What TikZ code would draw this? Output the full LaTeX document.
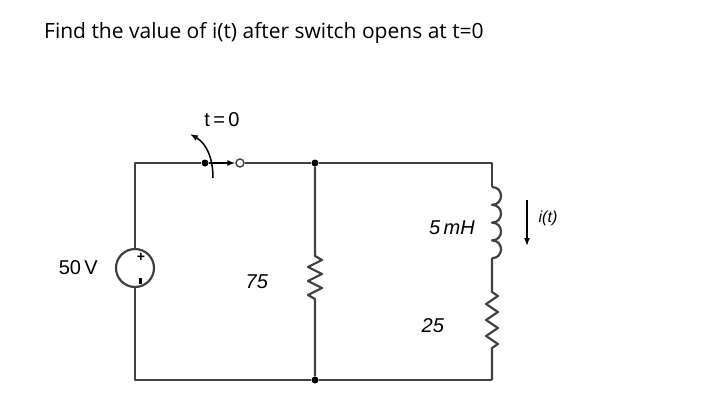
\documentclass[tikz,border=0pt]{standalone}
\usepackage{fontspec}
\setmainfont{Liberation Sans}
\newfontfamily\titlefont{Open Sans}
\usetikzlibrary{positioning,calc,arrows.meta}
\begin{document}
\begin{tikzpicture}[x=1pt,y=-1pt,
	wire/.style={draw=black!75, line width=2.2, line join=round},
	dot/.style={circle, fill=black, inner sep=0, minimum size=7},
	open/.style={circle, draw=black!75, fill=white, line width=1.4, inner sep=0, minimum size=8},
	lbl/.style={inner sep=1, font=\fontsize{20}{20}\selectfont},
	arrow/.style={line width=1.5, -{Latex[length=8,width=6]}}]
	\useasboundingbox (0,0) rectangle (726,410);
	\node[anchor=west, inner sep=0, font=\titlefont\fontsize{21}{21}\selectfont] (title) at (44,33) {Find the value of i(t) after switch opens at t=0};

	% corners and junctions
	\coordinate (tl) at (135,163);
	\coordinate (bl) at (135,380);
	\coordinate (tr) at (492,163);
	\coordinate (br) at (492,380);
	\node[dot] (sw) at (205,163) {};
	\node[open] (swo) at (240,163) {};
	\node[dot] (jt) at (315,163) {};
	\node[dot] (jb) at (315,380) {};

	% source
	\node[circle, draw=black!75, line width=2.2, minimum size=38, inner sep=0] (src) at (135,268) {};
	\node[font=\bfseries\fontsize{14}{14}\selectfont, inner sep=0] at (141,257) {+};
	\fill (139,278) rectangle (142,284);
	\node[lbl, left=16pt of src] {50\,V};

	% wires
	\draw[wire] (src.north) -- (tl) -- (sw);
	\draw[wire] (src.south) -- (bl) -- (jb) -- (br);
	\draw[wire] (swo) -- (jt) -- (tr) -- (492,187);
	\draw[arrow] (sw) -- (swo.west);
	\draw[arrow] (213,178) to[out=90,in=-30] (190,134);
	\node[lbl] at (222,120) {t\,=\,0};

	% 75 ohm
	\draw[wire] (jt) -- (315,256)
		-- ++(7,4) -- ++(-14,7) -- ++(14,7) -- ++(-14,7) -- ++(14,7) -- ++(-14,7) -- ++(7,4)
		-- (jb);
	\node[lbl] at (266,282) {\itshape 75\,$\mathit{\Omega}$};

	% inductor
	\draw[wire] (492,187)
		\foreach \k in {0,1,2,3} { .. controls +(12,0) and +(12,0) .. ++(0,17.8) };
	\draw[wire] (492,258.2) -- (492,292)
		-- ++(6,4) -- ++(-12,8) -- ++(12,8) -- ++(-12,8) -- ++(12,8) -- ++(-12,8) -- ++(12,8) -- ++(-6,4)
		-- (br);
	\node[lbl] at (452,228) {\itshape 5\,mH};
	\node[lbl] at (442,326) {\itshape 25\,$\mathit{\Omega}$};

	% current
	\coordinate (ia) at (527,200);
	\coordinate (ib) at (527,246);
	\draw[arrow] (ia) -- (ib);
	\node[lbl, font=\itshape\fontsize{16}{16}\selectfont] at (548,218) {i(t)};
\end{tikzpicture}
\end{document}
